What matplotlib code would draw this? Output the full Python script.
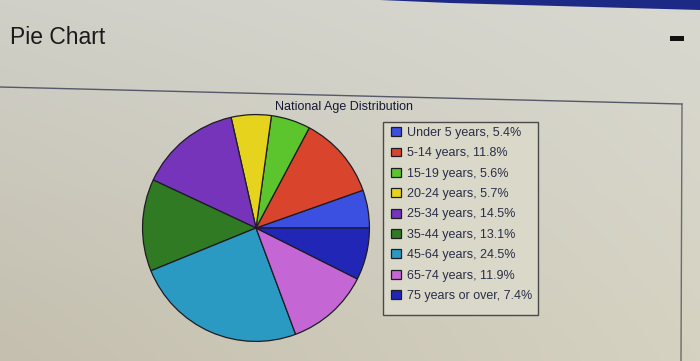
import numpy as np
import matplotlib
matplotlib.use("Agg")
import matplotlib.pyplot as plt
from matplotlib.patches import Rectangle, Polygon

plt.rcParams['font.family'] = ['Liberation Sans', 'DejaVu Sans']

# -----------------------------
# Data
# -----------------------------
age_groups = ["Under 5 years", "5-14 years", "15-19 years", "20-24 years",
              "25-34 years", "35-44 years", "45-64 years", "65-74 years",
              "75 years or over"]
shares = [5.4, 11.8, 5.6, 5.7, 14.5, 13.1, 24.5, 11.9, 7.4]
colors = ["#3b4fe0", "#d9452c", "#5cc42c", "#e6d31e", "#7634bb",
          "#2f7a22", "#2a9ac2", "#c467d4", "#2226b6"]

labels = [f"{g}, {s}%" for g, s in zip(age_groups, shares)]

W, H = 700, 361
fig = plt.figure(figsize=(W / 100, H / 100), dpi=100)

# -----------------------------
# Page background (pixel coords)
# -----------------------------
bg = fig.add_axes([0, 0, 1, 1], zorder=0)
bg.set_xlim(0, W)
bg.set_ylim(H, 0)
bg.axis("off")

tl = np.array([208, 208, 200]) / 255
tr = np.array([216, 216, 208]) / 255
bl = np.array([196, 191, 174]) / 255
br = np.array([214, 210, 193]) / 255
u = np.linspace(0, 1, 140)[None, :, None]
v = np.linspace(0, 1, 72)[:, None, None]
grad = (1 - v) * ((1 - u) * tl + u * tr) + v * ((1 - u) * bl + u * br)
bg.imshow(grad, extent=(0, W, H, 0), aspect="auto", interpolation="bilinear")

# window title bar strip along the top edge
bg.add_patch(Polygon([(380, 0), (700, 0), (700, 10), (450, 3)],
                     closed=True, facecolor="#1c2a86", edgecolor="none"))

bg.text(10, 38, "Pie Chart", fontsize=16.5, color="#1a1a1a",
        ha="left", va="center")
bg.add_patch(Rectangle((670, 36), 14, 5, facecolor="#111111", edgecolor="none"))

# panel border
bg.plot([0, 682], [87, 104], color="#55586a", lw=1.0)
bg.plot([682, 681], [104, 361], color="#6a6a70", lw=1.0)

bg.text(275, 107, "National Age Distribution", fontsize=9, color="#161a36",
        ha="left", va="center")

# legend box
bg.add_patch(Rectangle((383, 122), 155, 193, facecolor="#dad8c9",
                       edgecolor="#4a4a4a", lw=1.0))

# -----------------------------
# Pie
# -----------------------------
cx, cy, r = 256, 228, 114
ax = fig.add_axes([(cx - r) / W, 1 - (cy + r) / H, 2 * r / W, 2 * r / H], zorder=2)
wedges, _ = ax.pie(shares, colors=colors, startangle=0, counterclock=True,
                   wedgeprops=dict(edgecolor="#1c1c24", linewidth=0.9))
ax.set_xlim(-1.005, 1.005)
ax.set_ylim(-1.005, 1.005)
ax.set_aspect("equal")
ax.axis("off")

leg = fig.legend(wedges, labels, loc="upper left",
                 bbox_to_anchor=(391 / W, 1 - 127 / H),
                 frameon=False, fontsize=9, borderpad=0, borderaxespad=0,
                 handlelength=0.8, handleheight=0.72, handletextpad=0.45,
                 labelspacing=0.67)
for t in leg.get_texts():
    t.set_color("#2a2e48")

fig.savefig("out.png", dpi=100)
